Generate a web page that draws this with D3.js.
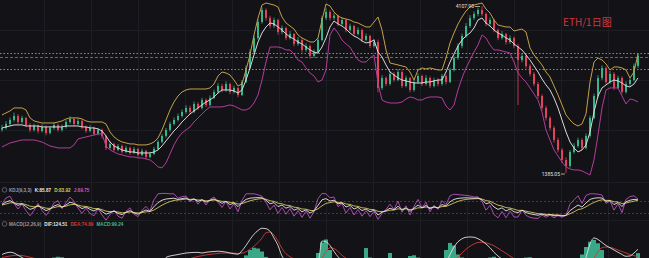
<!DOCTYPE html>
<html>
<head>
<meta charset="utf-8">
<script src="https://cdn.jsdelivr.net/npm/d3@7"></script>
<style>
html, body { margin: 0; padding: 0; background: #131317; overflow: hidden; }
svg { display: block; }
</style>
</head>
<body>
<svg id="chart" width="649" height="258"></svg>
<script>
// Daily candles: [open, high, low, close]
const candles = [
[2090,2170,2060,2120],[2120,2230,2095,2185],[2185,2290,2150,2250],[2250,2370,2220,2315],[2315,2345,2180,2217],
[2217,2320,2190,2283],[2283,2300,2130,2168],[2168,2200,2050,2087],[2087,2190,2060,2152],[2152,2175,2030,2071],
[2071,2180,2045,2136],[2136,2160,2000,2038],[2038,2150,2015,2120],[2120,2210,2090,2168],[2168,2190,2060,2087],
[2087,2175,2060,2136],[2136,2250,2110,2217],[2217,2310,2190,2266],[2266,2290,2150,2185],[2185,2275,2160,2234],
[2234,2255,2100,2136],[2136,2160,2040,2071],[2071,2165,2050,2120],[2120,2140,1990,2022],[2022,2120,2000,2087],
[2087,2110,1950,1989],[1989,2010,1760,1794],[1794,1900,1770,1859],[1859,1880,1730,1761],[1761,1860,1740,1826],
[1826,1850,1700,1728],[1728,1830,1705,1794],[1794,1815,1680,1712],[1712,1810,1690,1777],[1777,1795,1650,1679],
[1679,1780,1660,1745],[1745,1765,1615,1647],[1647,1730,1625,1696],[1696,1810,1680,1777],[1777,1925,1760,1891],
[1891,2020,1870,1989],[1989,2120,1960,2087],[2087,2220,2060,2185],[2185,2290,2160,2250],[2250,2355,2225,2315],
[2315,2420,2290,2380],[2380,2490,2350,2446],[2446,2480,2340,2380],[2380,2550,2360,2511],[2511,2540,2410,2446],
[2446,2610,2420,2576],[2576,2600,2460,2494],[2494,2650,2470,2609],[2609,2745,2590,2706],[2706,2850,2680,2804],
[2804,2840,2700,2739],[2739,2880,2710,2837],[2837,2860,2670,2706],[2706,2810,2680,2772],[2772,2790,2620,2657],
[2657,2900,2640,2869],[2869,3140,2850,3098],[3098,3400,3070,3358],[3358,3630,3330,3587],[3587,3890,3560,3847],
[3847,4085,3820,4043],[4043,4070,3870,3913],[3913,3950,3740,3782],[3782,3920,3750,3880],[3880,3900,3640,3684],
[3684,3790,3650,3750],[3750,3770,3550,3587],[3587,3700,3560,3652],[3652,3670,3450,3489],[3489,3600,3460,3554],
[3554,3580,3350,3391],[3391,3500,3360,3456],[3456,3480,3250,3293],[3293,3400,3260,3358],[3358,3590,3330,3554],
[3554,3950,3530,3913],[3913,4070,3880,4010],[4010,4040,3870,3913],[3913,3990,3880,3950],[3950,3970,3780,3815],
[3815,3920,3790,3880],[3880,3900,3680,3717],[3717,3820,3690,3782],[3782,3800,3620,3652],[3652,3760,3630,3717],
[3717,3740,3520,3554],[3554,3660,3530,3619],[3619,3640,3420,3456],[3456,3570,3430,3521],[3521,3560,2700,2772],
[2772,2980,2740,2935],[2935,2960,2800,2837],[2837,3040,2810,3000],[3000,3030,2870,2902],[2902,3080,2880,3032],
[3032,3060,2770,2804],[2804,2970,2780,2935],[2935,2950,2700,2739],[2739,2910,2710,2869],[2869,3010,2840,2967],
[2967,2990,2800,2837],[2837,2980,2810,2935],[2935,2960,2770,2804],[2804,2940,2780,2902],[2902,2930,2800,2837],
[2837,3000,2810,2967],[2967,2990,2830,2869],[2869,3100,2850,3065],[3065,3300,3040,3261],[3261,3500,3230,3456],
[3456,3660,3420,3619],[3619,3830,3590,3782],[3782,3960,3750,3913],[3913,4020,3880,3978],[3978,4080,3940,4043],
[4043,4107.9,3940,3978],[3978,4000,3780,3815],[3815,3920,3790,3880],[3880,3900,3680,3717],[3717,3740,3550,3587],
[3587,3700,3560,3652],[3652,3670,3480,3521],[3521,3630,3490,3587],[3587,3610,3420,3456],[3456,3490,2494,3228],
[3228,3340,3190,3293],[3293,3320,3090,3130],[3130,3160,2960,3000],[3000,3030,2800,2837],[2837,2870,2600,2641],
[2641,2670,2400,2446],[2446,2480,2240,2283],[2283,2310,2080,2120],[2120,2150,1880,1924],[1924,1960,1720,1761],
[1761,1790,1550,1598],[1598,1640,1385.05,1500],[1500,1760,1470,1728],[1728,1870,1700,1826],[1826,1960,1800,1924],
[1924,1950,1760,1794],[1794,2030,1770,1989],[1989,2320,1960,2283],[2283,2680,2260,2641],[2641,2980,2610,2935],
[2935,3140,2900,3098],[3098,3120,2830,2869],[2869,3050,2840,3000],[3000,3030,2740,2772],[2772,2970,2750,2935],
[2935,2960,2670,2706],[2706,2880,2680,2837],[2837,2940,2800,2902],[2902,3170,2880,3130],[3130,3340,3100,3293]
];

// Bollinger bands
const bollUpper = [
2332,2364,2397,2446,2446,2446,2413,2283,2234,2217, 2201,2201,2201,2201,2217,2234,2266,2283,2283,2283,
2266,2234,2217,2217,2217,2217,2185,2054,1973,1924, 1891,1875,1859,1859,1843,1843,1843,1859,1891,1957,
2087,2250,2413,2543,2641,2706,2739,2755,2755,2755, 2755,2755,2772,2837,2967,3032,3016,2984,2902,2804,
2837,3065,3310,3636,3913,4124,4157,4141,4124,4092, 3929,3831,3782,3733,3636,3587,3554,3521,3521,3587,
3880,4141,4108,4010,3945,3913,3896,3880,3847,3831, 3798,3766,3766,3847,3929,3717,3391,3179,3163,3147,
3130,3114,3032,2902,3065,3098,3081,3098,3081,3065, 3065,3261,3505,3668,3815,3929,4027,4092,4124,4141,
4157,4059,3994,3880,3798,3782,3766,3766,3701,3717, 3733,3684,3424,3310,3228,3147,3032,2951,2804,2658,
2495,2332,2250,2185,2152,2185,2348,2869,3195,3261, 3228,3163,3065,3114,3114,3098,3065,2935,3032,3326
];
const bollMid = [
2120,2136,2152,2169,2169,2169,2152,2152,2152,2152, 2136,2136,2136,2136,2136,2136,2152,2152,2152,2152,
2136,2136,2120,2120,2103,2071,1989,1891,1826,1794, 1761,1745,1728,1728,1712,1712,1712,1712,1728,1761,
1826,1908,1989,2071,2136,2217,2283,2348,2397,2446, 2495,2543,2576,2625,2690,2739,2739,2739,2723,2690,
2739,2902,3098,3310,3521,3668,3766,3831,3815,3766, 3717,3652,3603,3570,3521,3489,3440,3391,3358,3342,
3440,3587,3766,3864,3815,3782,3733,3668,3619,3587, 3538,3505,3521,3554,3358,3277,3147,3032,2984,2935,
2902,2886,2869,2853,2853,2853,2869,2869,2886,2902, 2902,3032,3195,3326,3456,3554,3619,3668,3750,3880,
3913,3831,3782,3717,3668,3636,3587,3554,3489,3440, 3391,3310,3228,3130,3032,2918,2821,2739,2609,2446,
2250,2054,1891,1794,1728,1761,1843,2054,2380,2641, 2772,2821,2869,2902,2886,2853,2804,2788,2837,2935
];
const bollLower = [
1810,1843,1875,1891,1908,1924,1924,1924,1924,1908, 1891,1859,1826,1810,1794,1794,1794,1794,1843,1940,
1957,1973,1989,2006,2022,2022,1826,1761,1728,1696, 1680,1663,1647,1647,1631,1631,1614,1598,1549,1484,
1468,1549,1696,1843,1957,2038,2087,2136,2217,2283, 2348,2413,2462,2462,2462,2462,2478,2495,2478,2446,
2413,2413,2446,2527,2658,2902,3195,3440,3440,3440, 3424,3391,3391,3326,3228,3195,3098,3016,2967,2869,
2902,3065,3636,3750,3668,3554,3489,3440,3326,3228, 3195,3195,3261,3310,2853,2576,2543,2527,2527,2527,
2543,2592,2625,2609,2576,2576,2609,2625,2625,2625, 2609,2478,2413,2495,2739,2935,3098,3228,3358,3473,
3636,3587,3473,3391,3391,3375,3358,3342,3195,3016, 2935,2869,2772,2674,2576,2380,2087,1924,1761,1663,
1565,1484,1451,1435,1435,1419,1386,1353,1598,2006, 2446,2739,2772,2772,2772,2641,2511,2592,2576,2543
];

// horizontal price levels drawn across the chart
const priceLevels = [3342, 3277, 3081];

// KDJ(9,3,3)
const kdjK = [
62,75,82,70,58,66,52,38,45,58, 44,32,40,55,62,48,60,74,68,55, 42,50,38,30,42,28,14,22,30,18,
12,24,32,20,14,26,35,28,52,72, 84,90,92,94,88,92,95,84,90,78, 86,74,84,90,80,68,78,62,70,52,
72,88,94,96,97,96,84,66,72,52, 60,44,52,34,42,26,36,20,30,58, 86,92,80,84,66,70,50,58,40,48,
32,40,26,34,10,24,32,44,36,54, 34,46,28,44,60,46,58,40,52,44, 62,56,76,88,93,95,96,95,94,95,
86,66,72,50,38,46,30,40,26,22, 34,22,16,12,9,14,8,12,6,9, 5,8,32,46,60,50,70,88,94,96,
95,78,82,62,72,52,76,84,88,85.87
];
const kdjD = [
60,65,71,71,67,67,62,54,51,53, 50,44,43,47,52,51,54,61,63,60, 54,53,48,42,42,37,29,27,28,25,
21,22,25,23,20,22,26,27,35,47, 59,69,77,83,85,87,90,88,89,85, 85,81,82,85,83,78,78,73,72,65,
67,74,81,86,90,92,89,81,78,69, 66,59,57,49,47,40,39,33,32,41, 56,68,72,76,73,72,65,63,55,53,
46,44,38,37,28,27,29,34,35,41, 39,41,37,39,46,46,50,47,49,47, 52,53,61,70,78,84,88,90,91,92,
90,82,79,69,59,55,47,45,39,33, 33,29,25,21,17,16,13,13,11,10, 8,8,16,26,37,41,51,63,73,81,
86,83,83,76,75,67,70,75,79,83.92
];
const kdjJ = [
66,95,104,68,40,64,32,6,33,68, 32,8,34,71,82,42,72,100,78,45, 18,44,18,6,42,10,-16,12,34,4,
-6,28,46,14,2,34,53,30,86,116, 118,118,116,116,94,102,105,76,92,64, 88,60,88,100,74,48,78,40,66,26,
82,116,116,116,111,104,74,36,60,18, 48,14,42,4,32,-2,30,-6,26,92, 118,116,96,100,52,66,20,48,10,38,
4,32,2,28,-12,18,38,64,38,80, 24,56,10,54,88,46,74,26,58,38, 82,62,106,114,112,110,108,105,100,101,
78,34,58,12,-4,28,-4,30,0,0, 36,8,-2,-6,-7,10,-2,10,-4,7, -1,8,64,86,106,68,108,116,116,114,
110,68,80,34,66,22,88,102,106,89.75
];

// MACD(12,26,9)
const macdDif = [
90,100,105,100,85,70,55,45,35,28, 22,15,12,10,8,10,14,18,20,18, 14,8,2,-5,-12,-20,-40,-55,-70,-80,
-88,-92,-95,-94,-90,-82,-72,-60,-42,-15, 30,70,80,85,90,95,100,102,104,104, 100,105,108,110,112,110,106,100,95,92,
115,150,190,225,250,265,262,245,200,150, 80,50,30,18,8,0,-8,-14,-18,20, 180,175,150,110,75,50,35,25,16,8,
0,-6,-12,-18,-50,-70,-85,-95,-100,-102, -100,-98,-95,-90,-85,-80,-75,-70,-58,-45, -20,30,90,140,175,195,205,207,205,195,
180,160,135,105,80,60,45,30,15,0, -10,-30,-50,-70,-95,-120,-140,-155,-165,-175, -185,-180,-150,-110,-70,-20,70,160,200,190,
170,150,135,120,105,90,78,80,100,124.51
];
const macdDea = [
70,75,80,84,85,83,78,72,65,58, 51,44,38,32,27,24,22,21,21,20, 19,17,14,10,6,0,-8,-18,-28,-39,
-49,-58,-66,-72,-76,-78,-77,-74,-70,-62, -45,-25,-5,12,27,40,52,62,70,77, 82,87,91,94,97,99,100,100,99,97,
99,108,125,145,170,200,235,240,220,180, 130,95,75,60,48,38,30,22,15,15, 60,110,135,130,110,85,65,50,38,28,
18,10,2,-6,-14,-26,-40,-52,-62,-70, -76,-80,-82,-83,-83,-82,-80,-78,-75,-70, -55,-30,0,35,70,100,125,145,160,170,
172,168,160,148,132,115,98,80,62,45, 28,10,-8,-25,-45,-65,-85,-102,-118,-132, -142,-148,-145,-135,-118,-95,-55,0,60,110,
135,140,138,130,120,110,100,90,82,74.89
];
const macdHist = [
40,50,50,32,0,-26,-46,-54,-60,-60, -58,-58,20,70,75,72,40,-6,-2,-4, -10,-18,-24,-30,-36,-40,-64,-74,-84,-82,
-78,-68,-58,-48,-40,-30,-22,-10,8,30, 50,55,50,45,40,38,35,30,28,25, 20,18,15,12,10,8,6,4,2,-4,
32,84,120,135,130,110,74,14,-40,-80, -110,-120,-120,-120,-120,-120,-110,-104,-96,100, 170,190,120,24,-30,-60,-80,-88,-88,-88,
60,133,70,-80,-116,-124,-122,100,-100,-84, -64,-48,80,85,70,2,12,18,24,28, 36,120,167,150,90,70,55,45,35,25,
15,10,70,75,-120,-126,-100,-90,-120,-116, -104,70,72,-110,-140,-150,-150,-140,-126,-114, -106,-76,-10,10,40,90,140,175,187,165,
120,60,14,-20,-40,-54,-66,-38,18,99.24
];

const title = "ETH/1日图";

const svg = d3.select("#chart");
const width = +svg.attr("width");
const height = +svg.attr("height");

const up = "#38b48b", down = "#e2435c";
const fmt = d3.format(".2f");

// scales
const x = d3.scaleLinear().domain([0, candles.length - 1]).range([2, 638]);
const yPrice = d3.scaleLinear().domain([1271, 4206]).range([180, 0]);
const yKdj = d3.scaleLinear().domain([0, 100]).range([217, 197]);
const yMacd = d3.scaleLinear().domain([0, 300]).range([268, 223]);

svg.append("rect").attr("width", width).attr("height", height).attr("fill", "#131317");

// clip areas for the three panes
const defs = svg.append("defs");
[["clipMain", 0, 181], ["clipKdj", 192, 30], ["clipMacd", 227, 31]].forEach(([id, y0, h]) => {
    defs.append("clipPath").attr("id", id)
        .append("rect").attr("x", 0).attr("y", y0).attr("width", width).attr("height", h);
});

// faint grid
const grid = svg.append("g").attr("stroke", "#1d1e23").attr("stroke-width", 1);
d3.range(44, width, 47).forEach(gx => {
    grid.append("line").attr("x1", gx + 0.5).attr("x2", gx + 0.5).attr("y1", 0).attr("y2", height);
});
[yPrice(3717), yPrice(2902), yPrice(2087), 182, 220].forEach(gy => {
    grid.append("line").attr("x1", 0).attr("x2", width).attr("y1", Math.round(gy) + 0.5).attr("y2", Math.round(gy) + 0.5);
});

// ---- main pane ----
const main = svg.append("g").attr("clip-path", "url(#clipMain)");

const levelStyle = [
    { color: "#b8862e", dash: "1.5,2" },
    { color: "#c23f5c", dash: "3,2" },
    { color: "#b8862e", dash: "1.5,2" }
];
main.selectAll("line.level").data(priceLevels).enter().append("line")
    .attr("class", "level")
    .attr("x1", 0).attr("x2", width)
    .attr("y1", d => Math.round(yPrice(d)) + 0.5).attr("y2", d => Math.round(yPrice(d)) + 0.5)
    .attr("stroke", (d, i) => levelStyle[i].color)
    .attr("stroke-dasharray", (d, i) => levelStyle[i].dash)
    .attr("stroke-width", 1);

const candle = main.selectAll("g.candle").data(candles).enter().append("g").attr("class", "candle");
candle.append("line")
    .attr("x1", (d, i) => x(i)).attr("x2", (d, i) => x(i))
    .attr("y1", d => yPrice(d[1])).attr("y2", d => yPrice(d[2]))
    .attr("stroke", d => d[3] >= d[0] ? up : down)
    .attr("stroke-width", 0.8);
candle.append("rect")
    .attr("x", (d, i) => x(i) - 1)
    .attr("width", 2)
    .attr("y", d => yPrice(Math.max(d[0], d[3])))
    .attr("height", d => Math.max(0.8, Math.abs(yPrice(d[0]) - yPrice(d[3]))))
    .attr("fill", d => d[3] >= d[0] ? up : down);

const bandLine = d3.line().x((d, i) => x(i)).y(d => yPrice(d));
[[bollUpper, "#c4a146"], [bollMid, "#d9d9d9"], [bollLower, "#b23c9c"]].forEach(([series, color]) => {
    main.append("path").datum(series)
        .attr("d", bandLine)
        .attr("fill", "none")
        .attr("stroke", color)
        .attr("stroke-width", 1);
});

// highest / lowest markers
const iMax = d3.maxIndex(candles, d => d[1]);
const iMin = d3.minIndex(candles, d => d[2]);
const hi = candles[iMax][1], lo = candles[iMin][2];
const marks = svg.append("g").attr("font-family", "Roboto, 'Liberation Sans', sans-serif")
    .attr("font-size", 5).attr("fill", "#e0e0e0");
marks.append("text").attr("x", x(iMax) - 8).attr("y", yPrice(hi) + 1.8)
    .attr("text-anchor", "end").text(fmt(hi));
marks.append("line").attr("x1", x(iMax) - 7).attr("x2", x(iMax) - 2)
    .attr("y1", yPrice(hi) + 0.5).attr("y2", yPrice(hi) + 0.5).attr("stroke", "#e0e0e0").attr("stroke-width", 0.7);
marks.append("text").attr("x", x(iMin) - 6).attr("y", yPrice(lo) + 2.6)
    .attr("text-anchor", "end").text(fmt(lo));
marks.append("line").attr("x1", x(iMin) - 5).attr("x2", x(iMin) - 1)
    .attr("y1", yPrice(lo) + 1).attr("y2", yPrice(lo) + 1).attr("stroke", "#e0e0e0").attr("stroke-width", 0.7);

svg.append("text")
    .attr("x", 563).attr("y", 26)
    .attr("font-family", "'Noto Sans CJK SC', 'Liberation Sans', sans-serif")
    .attr("font-size", 10)
    .attr("fill", "#d4333d")
    .text(title);

// ---- KDJ pane ----
const kdj = svg.append("g").attr("clip-path", "url(#clipKdj)");
[80, 20].forEach(v => {
    kdj.append("line").attr("x1", 0).attr("x2", width)
        .attr("y1", Math.round(yKdj(v)) + 0.5).attr("y2", Math.round(yKdj(v)) + 0.5)
        .attr("stroke", "#4a4b52").attr("stroke-dasharray", "2,2").attr("stroke-width", 0.8);
});
const kdjLine = d3.line().x((d, i) => x(i)).y(d => yKdj(d));
[[kdjJ, "#bb4fbf"], [kdjD, "#d2c25a"], [kdjK, "#e6e6e6"]].forEach(([series, color]) => {
    kdj.append("path").datum(series)
        .attr("d", kdjLine)
        .attr("fill", "none")
        .attr("stroke", color)
        .attr("stroke-width", 0.9);
});

// ---- MACD pane ----
const macd = svg.append("g").attr("clip-path", "url(#clipMacd)");
macd.selectAll("rect.bar").data(macdHist).enter().append("rect")
    .attr("class", "bar")
    .attr("x", (d, i) => x(i) - 2)
    .attr("width", 4)
    .attr("y", d => d >= 0 ? yMacd(d) : yMacd(0))
    .attr("height", d => Math.abs(yMacd(d) - yMacd(0)))
    .attr("fill", d => d >= 0 ? "#3aa886" : "#c9384d");
const macdLine = d3.line().x((d, i) => x(i)).y(d => yMacd(d)).curve(d3.curveMonotoneX);
[[macdDea, "#cf3a38"], [macdDif, "#dedede"]].forEach(([series, color]) => {
    macd.append("path").datum(series)
        .attr("d", macdLine)
        .attr("fill", "none")
        .attr("stroke", color)
        .attr("stroke-width", 0.9);
});

// ---- indicator captions: pieces laid out one after another ----
function caption(y, parts) {
    const g = svg.append("g").attr("font-family", "'Liberation Sans', Arial, sans-serif")
        .attr("font-size", 4.6).attr("font-weight", "bold");
    g.append("circle").attr("cx", 4.5).attr("cy", y - 1.6).attr("r", 2.3)
        .attr("fill", "none").attr("stroke", "#8a8b90").attr("stroke-width", 0.6);
    let cx = 9;
    parts.forEach(p => {
        const t = g.append("text").attr("x", cx).attr("y", y).attr("fill", p.color).text(p.text);
        cx += t.node().getComputedTextLength() + 3.2;
    });
}
const last = candles.length - 1;
caption(191.5, [
    { text: "KDJ(9,3,3)", color: "#9a9ba0" },
    { text: "K:" + fmt(kdjK[last]), color: "#e8e8e8" },
    { text: "D:" + fmt(kdjD[last]), color: "#d8c64e" },
    { text: "J:" + fmt(kdjJ[last]), color: "#c257c4" }
]);
caption(225.5, [
    { text: "MACD(12,26,9)", color: "#9a9ba0" },
    { text: "DIF:" + fmt(macdDif[last]), color: "#e8e8e8" },
    { text: "DEA:" + fmt(macdDea[last]), color: "#d53b3b" },
    { text: "MACD:" + fmt(macdHist[last]), color: "#3cba8c" }
]);
</script>
</body>
</html>
